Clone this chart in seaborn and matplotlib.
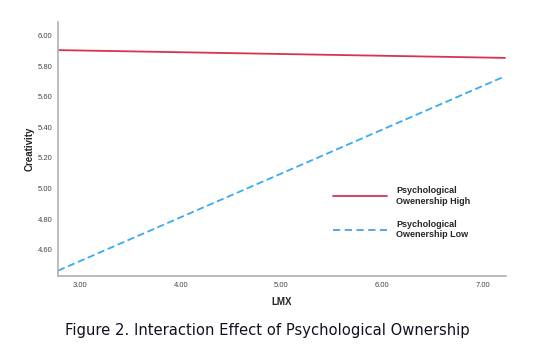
import matplotlib
matplotlib.use("Agg")
import matplotlib.pyplot as plt
import seaborn as sns
import pandas as pd
from matplotlib.lines import Line2D

# Data
lmx = [2.78, 7.22]
high = [5.906, 5.855]
low = [4.462, 5.735]
series_names = ["Psychological\nOwenership High", "Psychological\nOwenership Low"]
xticks = [3.0, 4.0, 5.0, 6.0, 7.0]
yticks = [4.6, 4.8, 5.0, 5.2, 5.4, 5.6, 5.8, 6.0]

df = pd.DataFrame({
    "LMX": lmx + lmx,
    "Creativity": high + low,
    "Group": [series_names[0]] * 2 + [series_names[1]] * 2,
})

sns.set_theme(style="white")
plt.rcParams['font.family'] = ['Liberation Sans', 'DejaVu Sans']

fig = plt.figure(figsize=(5.6, 3.52), dpi=100)
ax = fig.add_axes([58/560, 1 - 276/352, (506-58)/560, (276-22)/352])

sns.lineplot(data=df, x="LMX", y="Creativity", hue="Group", style="Group",
             palette=["#d9334f", "#3aaaf5"], dashes=[(None, None), (4, 2)],
             linewidth=1.3, ax=ax, legend=False)

ax.set_xlim(2.78, 7.23)
ax.set_ylim(4.427, 6.09)
ax.set_xticks(xticks)
ax.set_xticklabels([f"{v:.2f}" for v in xticks])
ax.set_yticks(yticks)
ax.set_yticklabels([f"{v:.2f}" for v in yticks])
ax.tick_params(axis="both", length=0, labelsize=5.5, labelcolor="#444444")
ax.tick_params(axis="y", pad=4)
ax.tick_params(axis="x", pad=4)
for s in ["top", "right"]:
    ax.spines[s].set_visible(False)
for s in ["left", "bottom"]:
    ax.spines[s].set_color("#b0b0b0")
    ax.spines[s].set_linewidth(1.2)

ax.set_xlabel("LMX", fontsize=7, fontweight="bold", labelpad=6)
ax.set_ylabel("Creativity", fontsize=7, fontweight="bold", labelpad=2)

handles = [Line2D([0], [0], color="#d9334f", lw=1.3),
           Line2D([0], [0], color="#4aa0e8", lw=1.3, dashes=(4, 2.5))]
leg = ax.legend(handles, series_names, loc="upper left",
                bbox_to_anchor=((325 - 58) / 448, (276 - 178) / 254),
                frameon=False, prop={"size": 6.5, "weight": "bold"},
                handlelength=6.0, handletextpad=1.0, labelspacing=1.55)

fig.text(267/560, 1 - 330/352, "Figure 2. Interaction Effect of Psychological Ownership",
         ha="center", va="center", fontsize=10.6, color="#111122",
         family=["DejaVu Sans"])

fig.savefig("out.png", dpi=100)
